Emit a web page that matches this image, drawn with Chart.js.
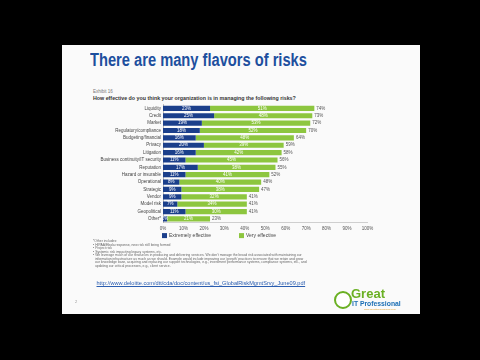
<!DOCTYPE html>
<html>
<head>
<meta charset="utf-8">
<script src="https://cdn.jsdelivr.net/npm/chart.js@4.4.0/dist/chart.umd.min.js"></script>
<style>
  body { margin:0; width:480px; height:360px; background:#000; overflow:hidden; font-family:"Liberation Sans", Arial, sans-serif; }
  #slide { position:absolute; left:62px; top:45px; width:358px; height:269px; background:#fafafa; }
  .t { position:absolute; white-space:nowrap; }
  #title { left:28px; top:5px; font:bold 18px "Liberation Sans", Arial, sans-serif; color:#1d4f9e; transform:scaleX(0.815); transform-origin:left top; }
  #exh { left:31px; top:44px; font-size:4.5px; color:#777; }
  #q { left:31px; top:50px; font-size:5.3px; font-weight:bold; color:#333; }
  #box { position:absolute; left:0; top:55px; width:320px; height:142px; }
  #notes { left:31px; top:195px; font-size:3.4px; line-height:3.5px; color:#666; }
  #link { left:34.5px; top:235px; font-size:5.6px; color:#2a5db0; text-decoration:underline; }
  #pg { left:13px; top:254px; font-size:4px; color:#999; }
  #icon { position:absolute; left:272px; top:246px; width:14px; height:14px; border:2px solid #6ab023; border-radius:50%; background:#fff; }
  #great { left:289px; top:241px; font-size:13px; font-weight:bold; color:#6ab023; }
  #itp { left:290px; top:255px; font-size:6.8px; font-weight:bold; color:#1c6fb5; }
  #sub { left:302px; top:263px; font-size:2.5px; color:#e0a030; }
</style>
</head>
<body>
<div id="slide">
  <div class="t" id="title">There are many flavors of risks</div>
  <div class="t" id="exh">Exhibit 16</div>
  <div class="t" id="q">How effective do you think your organization is in managing the following risks?</div>
  <div id="box"><canvas id="myChart" width="320" height="142"></canvas></div>
  <div class="t" id="notes">*Other includes:<br>
• HIPAA/Ebola response, new risk still being formed<br>
• Project risk<br>
• Systemic risk impacting legacy systems, etc.<br>
• We leverage much of our resources in producing and delivering services. We don't manage the broad risk associated with maintaining our<br>
&nbsp;&nbsp;information infrastructure as much as we should. Example would include improving our 'growth' practices to ensure that we retain and grow<br>
&nbsp;&nbsp;our knowledge base, acquiring and replacing our support technologies, e.g., investment performance systems, compliance systems, etc., and<br>
&nbsp;&nbsp;updating our critical processes, e.g., client service.</div>
  <div class="t" id="link">http://www.deloitte.com/dtt/cda/doc/content/us_fsi_GlobalRiskMgmtSrvy_June09.pdf</div>
  <div class="t" id="pg">2</div>
  <div id="icon"></div>
  <div class="t" id="great">Great</div>
  <div class="t" id="itp">IT Professional</div>
  <div class="t" id="sub">www.greatitprofessional.com</div>
</div>
<script>
const riesgos = ['Liquidity','Credit','Market','Regulatory/compliance','Budgeting/financial','Privacy','Litigation',
  'Business continuity/IT security','Reputation','Hazard or insurable','Operational','Strategic','Vendor','Model risk','Geopolitical','Other*'];
const extremo = [23,25,19,18,16,20,16,11,17,11,8,9,9,7,11,2];
const muyEfectivo = [51,48,53,52,48,39,42,45,38,41,40,38,32,34,30,21];
const totales = [74,73,72,70,64,59,58,56,55,52,48,47,41,41,41,23];
const ticksX = [0,10,20,30,40,50,60,70,80,90,100];

const ctx = document.getElementById('myChart').getContext('2d');

// etiquetas dentro de las barras, totales y leyenda
const etiquetas = {
  id: 'etiquetas',
  afterDatasetsDraw(chart) {
    const c = chart.ctx;
    c.save();
    c.font = '4.5px "Liberation Sans", Arial';
    c.textBaseline = 'middle';
    chart.data.datasets.forEach((ds, i) => {
      chart.getDatasetMeta(i).data.forEach((bar, j) => {
        c.fillStyle = '#fff';
        c.textAlign = 'center';
        c.fillText(ds.data[j] + '%', (bar.x + bar.base) / 2, bar.y);
        if (i == 1) {
          c.fillStyle = '#555';
          c.textAlign = 'left';
          c.fillText(totales[j] + '%', bar.x + 2, bar.y);
        }
      });
    });
    // leyenda
    const a = chart.chartArea;
    const ly = a.bottom + 13;
    const xs = [a.left - 1, a.left + 76];
    c.font = '5px "Liberation Sans", Arial';
    chart.data.datasets.forEach((ds, i) => {
      c.fillStyle = ds.backgroundColor;
      c.fillRect(xs[i], ly - 2.5, 5, 5);
      c.fillStyle = '#444';
      c.textAlign = 'left';
      c.fillText(ds.label, xs[i] + 7, ly);
    });
    c.restore();
  }
};

const myChart = new Chart(ctx, {
  type: 'bar',
  data: {
    labels: riesgos,
    datasets: [
      { label: 'Extremely effective', data: extremo, backgroundColor: '#1b3f8b', barPercentage: 0.7, categoryPercentage: 1 },
      { label: 'Very effective', data: muyEfectivo, backgroundColor: '#8dc63f', barPercentage: 0.7, categoryPercentage: 1 }
    ]
  },
  options: {
    indexAxis: 'y',
    responsive: false,
    animation: false,
    layout: { padding: { top: 3.3, right: 14.5, left: 0, bottom: 8 } },
    scales: {
      x: {
        stacked: true, min: 0, max: 100,
        afterBuildTicks: (s) => { s.ticks = ticksX.map(v => ({ value: v })); },
        ticks: { callback: v => v + '%', font: { size: 4.5, family: '"Liberation Sans", Arial' }, color: '#555', padding: 3 },
        grid: { display: false, drawTicks: false },
        border: { color: '#bbb', width: 0.7 }
      },
      y: {
        stacked: true,
        afterFit: (s) => { s.width = 101; },
        ticks: { font: { size: 4.5, family: '"Liberation Sans", Arial' }, color: '#444', padding: 2, autoSkip: false },
        grid: { display: false, drawTicks: false },
        border: { color: '#999', width: 0.7 }
      }
    },
    plugins: {
      legend: { display: false },
      tooltip: { enabled: false }
    }
  },
  plugins: [etiquetas]
});
</script>
</body>
</html>
